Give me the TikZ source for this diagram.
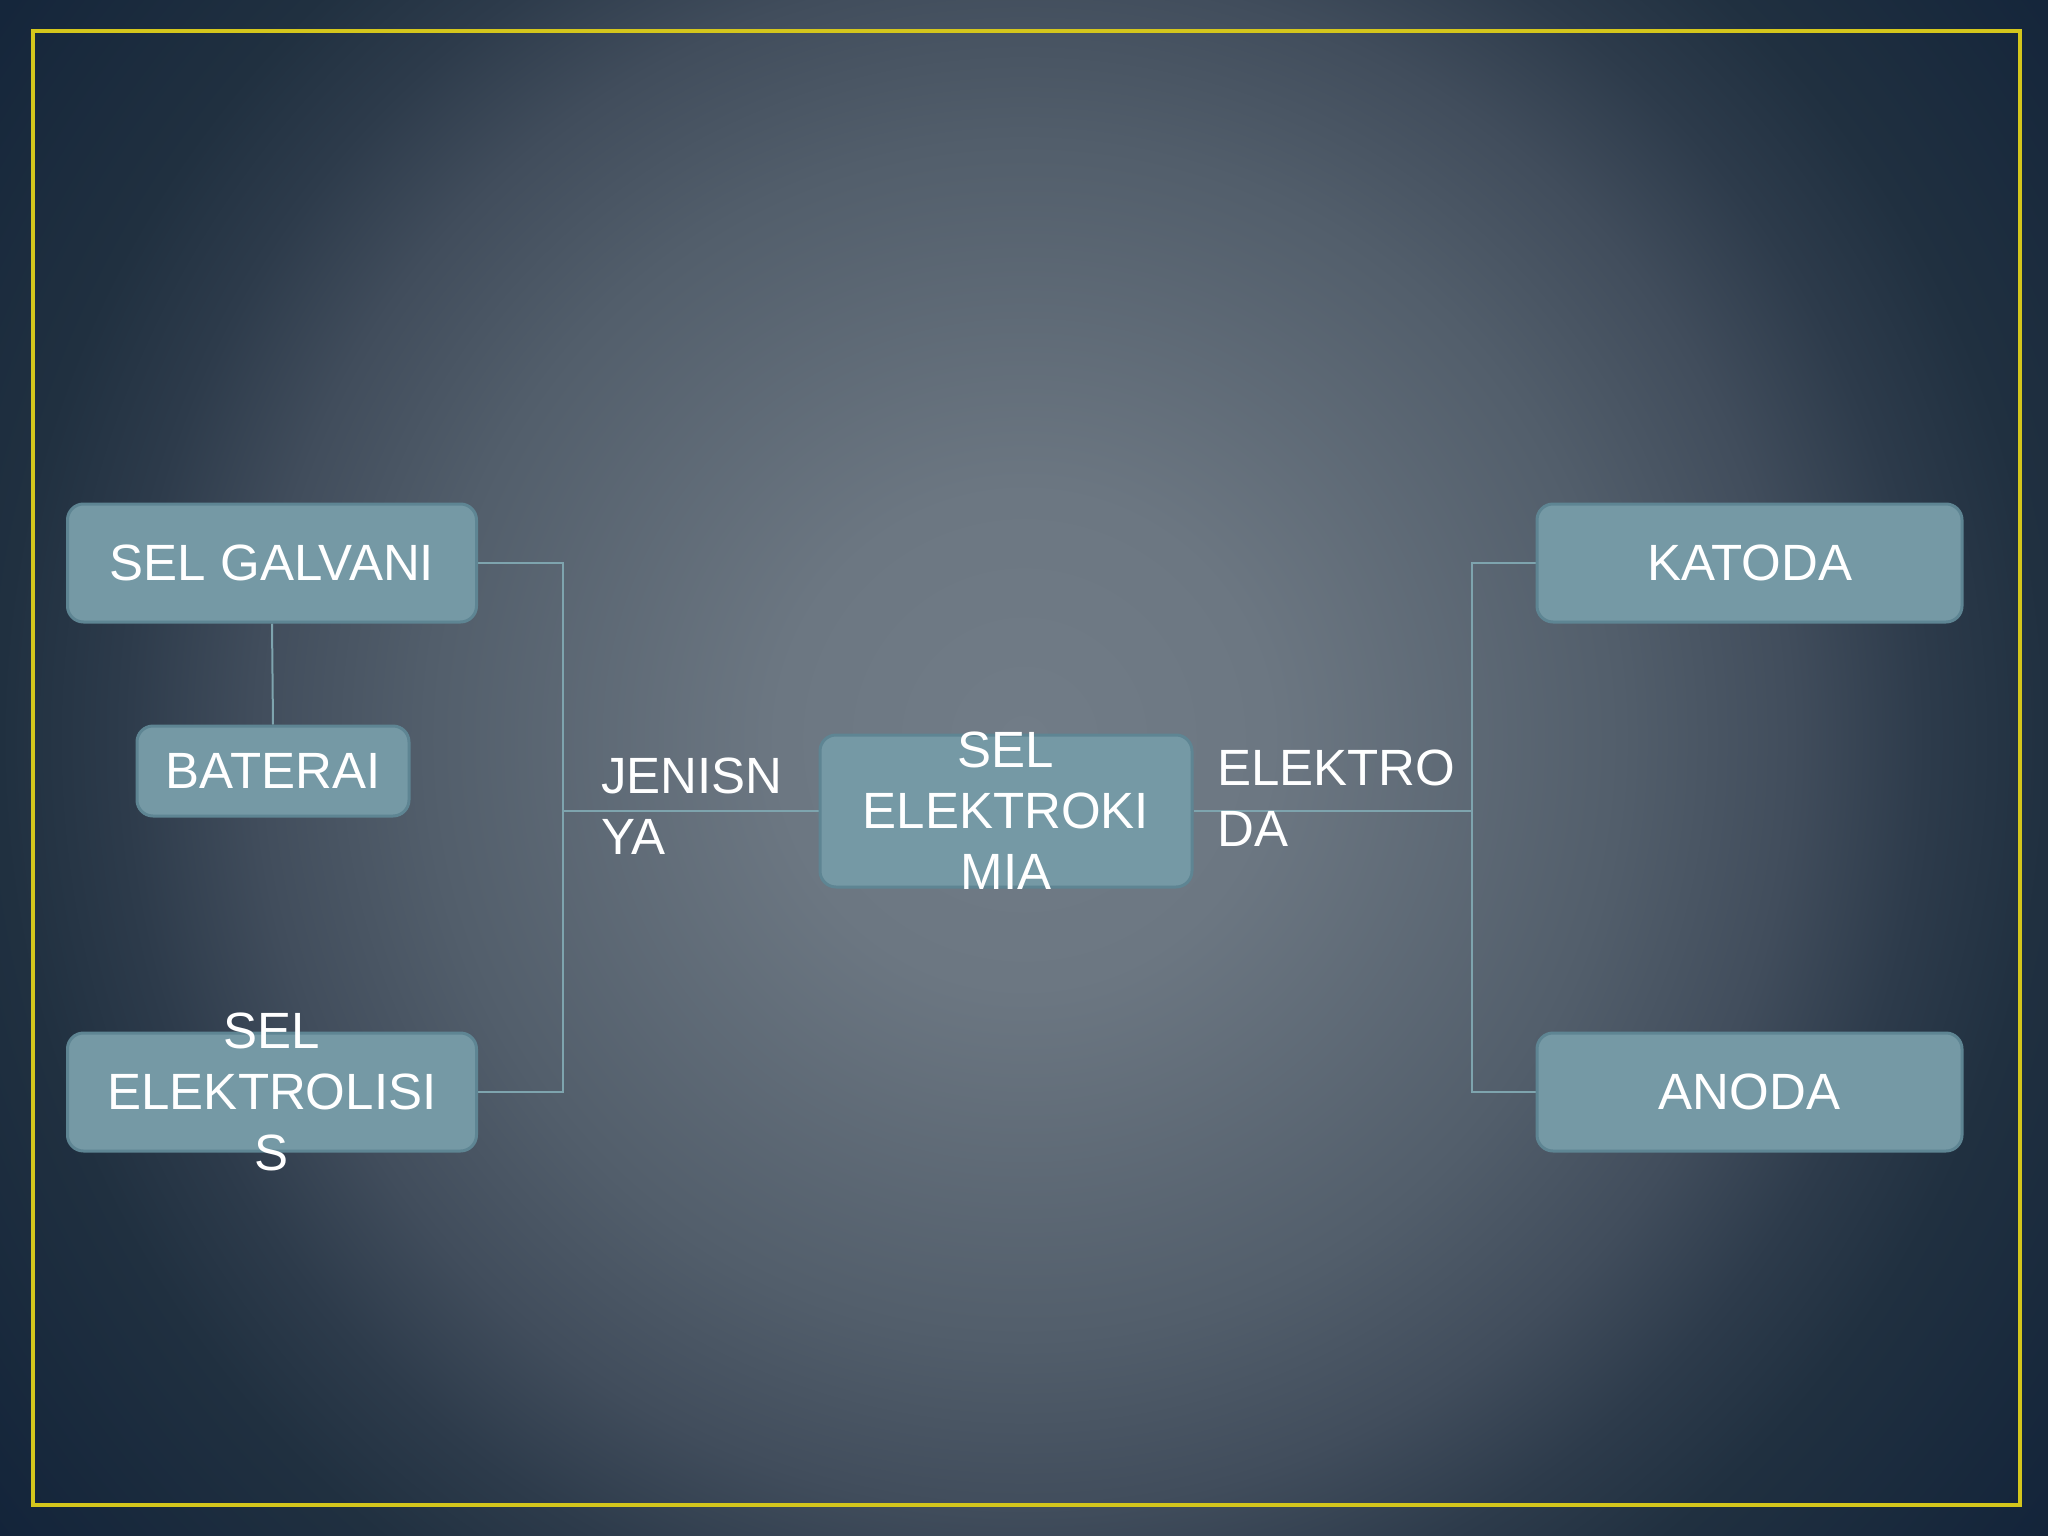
\documentclass[tikz,border=0pt]{standalone}
\usepackage{fontspec}
\setmainfont{Liberation Sans}
\definecolor{bga}{HTML}{717C87}
\definecolor{bgb}{HTML}{6C7782}
\definecolor{bgc}{HTML}{525E6B}
\definecolor{bgd}{HTML}{414D5C}
\definecolor{bge}{HTML}{2D3B4B}
\definecolor{bgf}{HTML}{203040}
\definecolor{bgg}{HTML}{13243A}
\definecolor{boxfill}{HTML}{7599A5}
\definecolor{boxline}{HTML}{5E8593}
\definecolor{connc}{HTML}{7EA4AE}
\definecolor{framec}{HTML}{D4C61C}
\pgfdeclareradialshading{bgshade}{\pgfpoint{0bp}{0bp}}{color(0bp)=(bga); color(6bp)=(bgb); color(14.6bp)=(bgc); color(18.75bp)=(bgd); color(22bp)=(bge); color(25bp)=(bgf); color(31.7bp)=(bgg); color(100bp)=(bgg)}
\pgfdeclarelayer{bglayer}
\pgfdeclarelayer{connlayer}
\pgfsetlayers{bglayer,connlayer,main}
\tikzset{
  boxnode/.style={rounded corners=16pt, fill=boxfill, draw=boxline, line width=3pt, inner sep=0pt, text=white, font=\fontsize{51}{61}\selectfont},
  lbl/.style={text=white, inner sep=0pt, font=\fontsize{51}{61}\selectfont, align=center},
  sidelbl/.style={text=white, inner sep=0pt, font=\fontsize{51}{61}\selectfont, align=left, anchor=west},
  connline/.style={draw=connc, line width=2pt}
}
\begin{document}
\begin{tikzpicture}[x=1pt,y=-1pt]
\useasboundingbox (0,0) rectangle (2048,1536);
\begin{pgfonlayer}{bglayer}
\begin{scope}
\clip (0,0) rectangle (2048,1536);
\shade[shading=bgshade] (0,-284) rectangle (2048,1764);
\end{scope}
\draw[framec, line width=4pt] (33,31) rectangle (2020,1505);
\end{pgfonlayer}

\node[boxnode, minimum width=409pt, minimum height=118pt] (galvani) at (272,563) {SEL GALVANI};
\node[boxnode, minimum width=272pt, minimum height=90pt] (baterai) at (273,771) {BATERAI};
\node[boxnode, minimum width=409pt, minimum height=118pt] (elektrolisis) at (272,1092) {};
\node[lbl] (elektrolisistxt) at (elektrolisis.center) {SEL\\ELEKTROLISI\\S};
\node[boxnode, minimum width=372pt, minimum height=152pt] (kimia) at (1006,811) {};
\node[lbl] (kimiatxt) at (kimia.center) {SEL\\ELEKTROKI\\MIA};
\node[boxnode, minimum width=425pt, minimum height=118pt] (katoda) at (1749.5,563) {KATODA};
\node[boxnode, minimum width=425pt, minimum height=118pt] (anoda) at (1749.5,1092) {ANODA};

\node[sidelbl] (jenis) at (601,806) {JENISN\\YA};
\node[sidelbl] (elektroda) at (1217,798) {ELEKTRO\\DA};

\coordinate (lj) at (563,811);
\coordinate (rj) at (1472,811);
\begin{pgfonlayer}{connlayer}
\draw[connline] (galvani.south) -- (baterai.north);
\draw[connline] (galvani.east) -- (galvani.east -| lj) -- (elektrolisis.east -| lj) -- (elektrolisis.east);
\draw[connline] (lj) -- (kimia.west);
\draw[connline] (katoda.west) -- (katoda.west -| rj) -- (anoda.west -| rj) -- (anoda.west);
\draw[connline] (kimia.east) -- (rj);
\end{pgfonlayer}
\end{tikzpicture}
\end{document}
